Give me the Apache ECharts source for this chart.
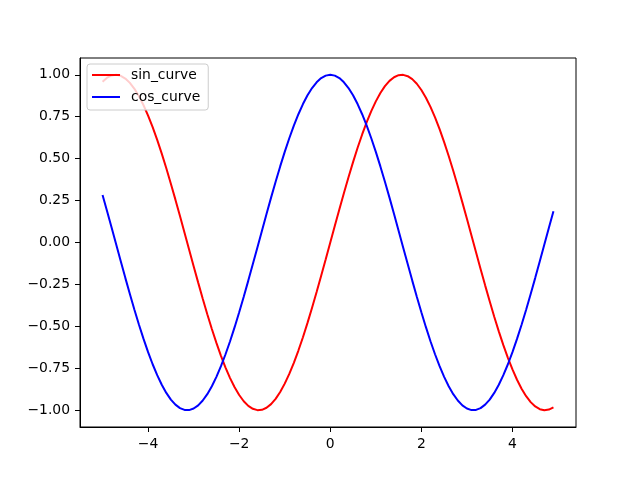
<!DOCTYPE html>
<html>
<head>
<meta charset="utf-8">
<script src="https://cdn.jsdelivr.net/npm/echarts@6/dist/echarts.min.js"></script>
<style>html,body{margin:0;padding:0;background:#fff}#c{width:640px;height:480px}</style>
</head>
<body>
<div id="c"></div>
<script>
const xValues = [-5.0,-4.9,-4.8,-4.7,-4.6,-4.5,-4.4,-4.3,-4.2,-4.1,-4.0,-3.9,-3.8,-3.7,-3.6,-3.5,-3.4,-3.3,-3.2,-3.1,-3.0,-2.9,-2.8,-2.7,-2.6,-2.5,-2.4,-2.3,-2.2,-2.1,-2.0,-1.9,-1.8,-1.7,-1.6,-1.5,-1.4,-1.3,-1.2,-1.1,-1.0,-0.9,-0.8,-0.7,-0.6,-0.5,-0.4,-0.3,-0.2,-0.1,0.0,0.1,0.2,0.3,0.4,0.5,0.6,0.7,0.8,0.9,1.0,1.1,1.2,1.3,1.4,1.5,1.6,1.7,1.8,1.9,2.0,2.1,2.2,2.3,2.4,2.5,2.6,2.7,2.8,2.9,3.0,3.1,3.2,3.3,3.4,3.5,3.6,3.7,3.8,3.9,4.0,4.1,4.2,4.3,4.4,4.5,4.6,4.7,4.8,4.9];
const sinValues = [0.9589,0.9825,0.9962,0.9999,0.9937,0.9775,0.9516,0.9162,0.8716,0.8183,0.7568,0.6878,0.6119,0.5298,0.4425,0.3508,0.2555,0.1577,0.0584,-0.0416,-0.1411,-0.2392,-0.3350,-0.4274,-0.5155,-0.5985,-0.6755,-0.7457,-0.8085,-0.8632,-0.9093,-0.9463,-0.9738,-0.9917,-0.9996,-0.9975,-0.9854,-0.9636,-0.9320,-0.8912,-0.8415,-0.7833,-0.7174,-0.6442,-0.5646,-0.4794,-0.3894,-0.2955,-0.1987,-0.0998,0,0.0998,0.1987,0.2955,0.3894,0.4794,0.5646,0.6442,0.7174,0.7833,0.8415,0.8912,0.9320,0.9636,0.9854,0.9975,0.9996,0.9917,0.9738,0.9463,0.9093,0.8632,0.8085,0.7457,0.6755,0.5985,0.5155,0.4274,0.3350,0.2392,0.1411,0.0416,-0.0584,-0.1577,-0.2555,-0.3508,-0.4425,-0.5298,-0.6119,-0.6878,-0.7568,-0.8183,-0.8716,-0.9162,-0.9516,-0.9775,-0.9937,-0.9999,-0.9962,-0.9825];
const cosValues = [0.2837,0.1865,0.0875,-0.0124,-0.1122,-0.2108,-0.3073,-0.4008,-0.4903,-0.5748,-0.6536,-0.7259,-0.7910,-0.8481,-0.8968,-0.9365,-0.9668,-0.9875,-0.9983,-0.9991,-0.9900,-0.9710,-0.9422,-0.9041,-0.8569,-0.8011,-0.7374,-0.6663,-0.5885,-0.5048,-0.4161,-0.3233,-0.2272,-0.1288,-0.0292,0.0707,0.1700,0.2675,0.3624,0.4536,0.5403,0.6216,0.6967,0.7648,0.8253,0.8776,0.9211,0.9553,0.9801,0.9950,1,0.9950,0.9801,0.9553,0.9211,0.8776,0.8253,0.7648,0.6967,0.6216,0.5403,0.4536,0.3624,0.2675,0.1700,0.0707,-0.0292,-0.1288,-0.2272,-0.3233,-0.4161,-0.5048,-0.5885,-0.6663,-0.7374,-0.8011,-0.8569,-0.9041,-0.9422,-0.9710,-0.9900,-0.9991,-0.9983,-0.9875,-0.9668,-0.9365,-0.8968,-0.8481,-0.7910,-0.7259,-0.6536,-0.5748,-0.4903,-0.4008,-0.3073,-0.2108,-0.1122,-0.0124,0.0875,0.1865];
const seriesNames = ['sin_curve', 'cos_curve'];
const xTicks = [-4, -2, 0, 2, 4];
const yTicks = [-1.0, -0.75, -0.5, -0.25, 0.0, 0.25, 0.5, 0.75, 1.0];

const pair = (ys) => xValues.map((x, i) => [x, ys[i]]);
const minus = (s) => s.replace('-', '\u2212');
const font = 'DejaVu Sans';

const chart = echarts.init(document.getElementById('c'), null, {renderer: 'canvas'});
chart.setOption({
  animation: false,
  backgroundColor: '#fff',
  grid: {left: 80, right: 64, top: 58, bottom: 53, show: true, borderColor: '#000', borderWidth: 1, backgroundColor: 'transparent'},
  legend: {
    orient: 'vertical', left: 87, top: 64,
    padding: [4, 8, 6, 5], itemGap: 8, itemWidth: 28, itemHeight: 2,
    icon: 'rect',
    backgroundColor: 'rgba(255,255,255,0.8)', borderColor: '#cccccc', borderWidth: 1, borderRadius: 3,
    textStyle: {fontFamily: font, fontSize: 13.9, lineHeight: 14, color: '#000', padding: [0, 0, 0, 6]},
    data: seriesNames
  },
  xAxis: {
    type: 'value', min: -5.495, max: 5.395,
    axisLine: {show: true, onZero: false, lineStyle: {color: '#000', width: 1}},
    axisTick: {show: true, length: 5, customValues: xTicks, lineStyle: {color: '#000'}},
    axisLabel: {customValues: xTicks, margin: 10, color: '#000', fontFamily: font, fontSize: 13.9, formatter: v => minus(String(v))},
    splitLine: {show: false}
  },
  yAxis: {
    type: 'value', min: -1.1, max: 1.1,
    axisLine: {show: true, onZero: false, lineStyle: {color: '#000', width: 1}},
    axisTick: {show: true, length: 5, customValues: yTicks, lineStyle: {color: '#000'}},
    axisLabel: {customValues: yTicks, margin: 10, color: '#000', fontFamily: font, fontSize: 13.9, formatter: v => minus(v.toFixed(2))},
    splitLine: {show: false}
  },
  series: [
    {name: seriesNames[0], type: 'line', data: pair(sinValues), symbol: 'none', lineStyle: {color: '#ff0000', width: 2}, itemStyle: {color: '#ff0000'}},
    {name: seriesNames[1], type: 'line', data: pair(cosValues), symbol: 'none', lineStyle: {color: '#0000ff', width: 2}, itemStyle: {color: '#0000ff'}}
  ]
});
</script>
</body>
</html>
